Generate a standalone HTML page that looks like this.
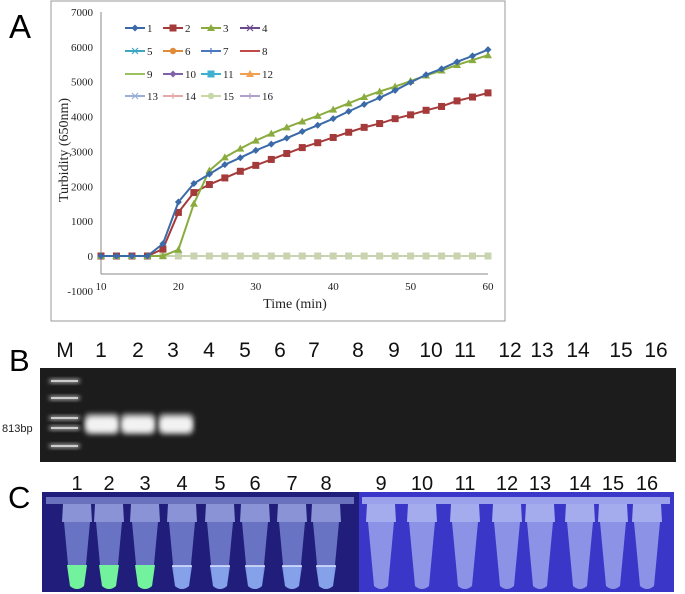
<!DOCTYPE html>
<html><head><meta charset="utf-8"><style>
html,body{margin:0;padding:0;background:#fff;width:685px;height:594px;overflow:hidden}
svg{display:block}
text{font-family:"Liberation Sans",sans-serif}
.ser{font-family:"Liberation Serif",serif}
</style></head><body>
<svg id="fig" width="685" height="594" viewBox="0 0 685 594">
<defs>
<filter id="glow" x="-30%" y="-60%" width="160%" height="220%"><feGaussianBlur stdDeviation="2"/></filter>
</defs>
<text x="9" y="38" font-size="33">A</text>
<rect x="51" y="1" width="454" height="320" fill="#fff" stroke="#999" stroke-width="1"/>
<g id="chart"></g>

<text x="9" y="371" font-size="31">B</text>
<g id="gelLabels" font-size="21" fill="#111" text-anchor="middle"></g>
<rect x="40" y="368" width="636" height="94" fill="#1c1c1c"/>
<g id="ladder"></g>
<g id="bands"></g>
<text x="2" y="432" font-size="11" fill="#222">813bp</text>

<text x="8" y="508" font-size="31">C</text>
<g id="tubeLabels" font-size="20" fill="#111" text-anchor="middle"></g>
<rect x="42" y="492" width="317" height="100" fill="#201e7a"/>
<rect x="359" y="492" width="315" height="100" fill="#3a36c8"/>
<g id="tubes"></g>
</svg>
<script>
const times=[10,12,14,16,18,20,22,24,26,28,30,32,34,36,38,40,42,44,46,48,50,52,54,56,58,60];
const s1=[0,0,0,0,350,1550,2080,2350,2620,2820,3030,3210,3380,3570,3750,3940,4150,4350,4540,4750,4980,5200,5370,5570,5740,5920];
const s2=[0,0,0,0,200,1250,1820,2050,2240,2430,2600,2770,2940,3110,3250,3400,3550,3690,3800,3940,4050,4180,4290,4450,4560,4680];
const s3=[0,0,0,0,0,180,1500,2450,2830,3080,3310,3510,3690,3860,4020,4200,4380,4560,4720,4860,5020,5180,5320,5480,5620,5760];
const sNeg=[0,0,0,0,0,0,0,0,0,0,0,0,0,0,0,0,0,0,0,0,0,0,0,0,0,0];
const yTicks=[-1000,0,1000,2000,3000,4000,5000,6000,7000];
const xTicks=[10,20,30,40,50,60];
const legendNames=["1","2","3","4","5","6","7","8","9","10","11","12","13","14","15","16"];
const legendColors=["#3b6aa8","#a53a3a","#8aac3e","#6a4a8c","#3fa8c0","#e08a3a","#4a78c0","#c04a4a","#9ac060","#8060a8","#40b0d0","#f0a050","#9ab0d8","#e8a8a8","#c8d8a8","#b0a0d0"];
const legendMarkers=["diamond","square","triangle","x","star","circle","plus","none","none","diamond","square","triangle","x","plus","circle","plus"];
const NS="http://www.w3.org/2000/svg";
function X(t){return 101+(t-10)*(488-101)/50;}
function Y(v){return 256-v*(256-12)/7000;}
function mk(tag,attrs,parent){const e=document.createElementNS(NS,tag);for(const k in attrs)e.setAttribute(k,attrs[k]);parent.appendChild(e);return e;}
const g=document.getElementById('chart');
mk('line',{x1:101,y1:Y(7000),x2:101,y2:274,stroke:'#888'},g);
mk('line',{x1:101,y1:274,x2:488,y2:274,stroke:'#888'},g);
yTicks.forEach(v=>{const t=mk('text',{x:93,y:Y(v)+4,'font-size':11,'text-anchor':'end',class:'ser',fill:'#222'},g);t.textContent=v;

});
xTicks.forEach(v=>{const t=mk('text',{x:X(v),y:290,'font-size':11,'text-anchor':'middle',class:'ser',fill:'#222'},g);t.textContent=v;

});
let xt=mk('text',{x:295,y:308,'font-size':14,'text-anchor':'middle',class:'ser',fill:'#222'},g);xt.textContent='Time (min)';


let yt=mk('text',{x:0,y:0,'font-size':14,'text-anchor':'middle',class:'ser',fill:'#222',transform:'translate(68,150) rotate(-90)'},g);yt.textContent='Turbidity (650nm)';


function marker(type,x,y,c,p){
 if(type==='diamond')return mk('path',{d:`M${x} ${y-3.5}L${x+3.5} ${y}L${x} ${y+3.5}L${x-3.5} ${y}Z`,fill:c},p);
 if(type==='square')return mk('rect',{x:x-3.5,y:y-3.5,width:7,height:7,fill:c},p);
 if(type==='triangle')return mk('path',{d:`M${x} ${y-4}L${x+4} ${y+3}L${x-4} ${y+3}Z`,fill:c},p);
 if(type==='circle')return mk('circle',{cx:x,cy:y,r:3.2,fill:c},p);
 if(type==='x'||type==='star')return mk('path',{d:`M${x-3} ${y-3}L${x+3} ${y+3}M${x+3} ${y-3}L${x-3} ${y+3}`,stroke:c,'stroke-width':1.2},p);
 if(type==='plus')return mk('path',{d:`M${x-3} ${y}H${x+3}M${x} ${y-3}V${y+3}`,stroke:c,'stroke-width':1.2},p);
 return null;
}
function series(vals,color,mtype,name){
 const sg=mk('g',{},g);
 
 
 mk('polyline',{points:vals.map((v,i)=>X(times[i])+','+Y(v)).join(' '),fill:'none',stroke:color,'stroke-width':2},sg);
 vals.forEach((v,i)=>{marker(mtype,X(times[i]),Y(v),color,sg);});
}
series(sNeg,'#a8a0c8','none','series-negatives');
series(sNeg,'#c8d4b0','square','series-15');
series(s2,'#a53a3a','square','series-2');
series(s3,'#8aac3e','triangle','series-3');
series(s1,'#3b6aa8','diamond','series-1');
const lg=mk('g',{},g);


const colX=[125,163,201,240],rowY=[26,49,72,94];
legendNames.forEach((n,i)=>{const cx=colX[i%4],cy=rowY[Math.floor(i/4)]+2;
 const e=mk('g',{},lg);
 
 
 mk('line',{x1:cx,y1:cy,x2:cx+20,y2:cy,stroke:legendColors[i],'stroke-width':2},e);
 marker(legendMarkers[i],cx+10,cy,legendColors[i],e);
 const t=mk('text',{x:cx+22,y:cy+4,'font-size':11,class:'ser',fill:'#222'},e);t.textContent=n;});
const laneNames=["M","1","2","3","4","5","6","7","8","9","10","11","12","13","14","15","16"];
const laneX=[65,101,138,173,209,245,280,314,358,394,431,465,510,542,578,621,656];
const gl=document.getElementById('gelLabels');
laneNames.forEach((n,i)=>{const t=mk('text',{x:laneX[i],y:357},gl);t.textContent=n;

});
const ladderY=[381,398,418,428,446];
const ld=document.getElementById('ladder');
ladderY.forEach(y=>{const r=mk('rect',{x:49,y:y-2,width:31,height:4,rx:2,fill:'#aaa',filter:'url(#glow)'},ld);


mk('rect',{x:51,y:y-1,width:27,height:2,fill:'#ccc'},ld);});
const bandLanes=[[86,118],[122,154],[160,192]];
const bd=document.getElementById('bands');
bandLanes.forEach(b=>{mk('rect',{x:b[0]-2,y:413,width:b[1]-b[0]+4,height:22,rx:6,fill:'#888',filter:'url(#glow)'},bd);
const r=mk('rect',{x:b[0],y:417,width:b[1]-b[0],height:15,rx:6,fill:'#f2f2f2',filter:'url(#glow)'},bd);

});
const tubeX=[77,109,145,182,220,255,292,326,381,422,465,507,540,580,613,647];
const tl=document.getElementById('tubeLabels');
const tb=document.getElementById('tubes');
mk('rect',{x:46,y:497,width:308,height:7,fill:'#8a96dc',opacity:0.7},tb);
mk('rect',{x:362,y:497,width:308,height:7,fill:'#b4bef4',opacity:0.8},tb);
tubeX.forEach((x,i)=>{const t=mk('text',{x:x,y:490},tl);t.textContent=(i+1);


 const right=i>=8;
 const tg=mk('g',{},tb);
 
 
 const body=right?'#c0caf6':'#a4b0ec';
 mk('path',{d:`M${x-14} 504H${x+14}L${x+15} 522H${x-15}Z`,fill:body,opacity:0.8},tg);
 mk('path',{d:`M${x-13} 522H${x+13}L${x+7} 586Q${x} 592 ${x-7} 586Z`,fill:right?'#a8b2f0':'#8290dc',opacity:0.75},tg);
 if(i<3){mk('path',{d:`M${x-10} 565H${x+10}L${x+7} 586Q${x} 592 ${x-7} 586Z`,fill:'#72f29c'},tg);}
 else if(!right){mk('path',{d:`M${x-10} 566H${x+10}L${x+7} 586Q${x} 592 ${x-7} 586Z`,fill:'#8cacf4',opacity:0.8},tg);
 mk('line',{x1:x-10,y1:566,x2:x+10,y2:566,stroke:'#dfe6ff','stroke-width':1.5},tg);}
});
</script>
</body></html>
